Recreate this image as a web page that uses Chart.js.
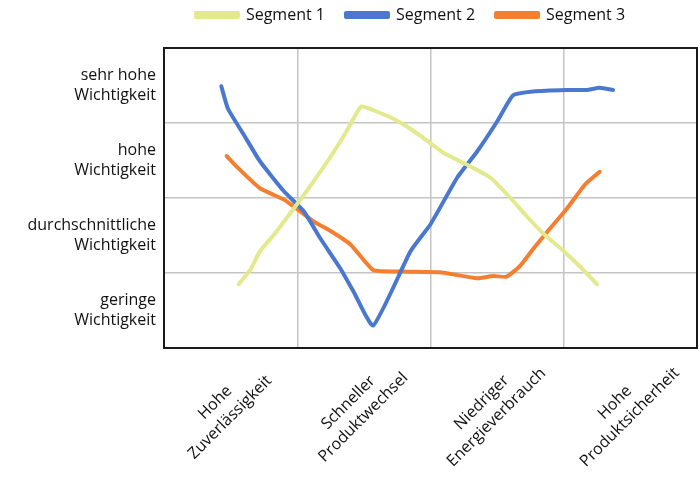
<!DOCTYPE html>
<html lang="de">
<head>
<meta charset="UTF-8">
<title>Wichtigkeit nach Segment</title>
<script src="https://cdn.jsdelivr.net/npm/chart.js"></script>
<style>
    html, body { margin: 0; padding: 0; background: #fff; }
    #wrap { width: 700px; height: 484px; }
</style>
</head>
<body>
<div id="wrap"><canvas id="chart"></canvas></div>
<script>
    // Kategorien (x) und Stufen (y), 0 = geringe ... 3 = sehr hohe
    const categories = [
        ['Hohe', 'Zuverlässigkeit'],
        ['Schneller', 'Produktwechsel'],
        ['Niedriger', 'Energieverbrauch'],
        ['Hohe', 'Produktsicherheit']
    ];
    const levels = [
        ['geringe', 'Wichtigkeit'],
        ['durchschnittliche', 'Wichtigkeit'],
        ['hohe', 'Wichtigkeit'],
        ['sehr hohe', 'Wichtigkeit']
    ];
    const seriesNames = ['Segment 1', 'Segment 2', 'Segment 3'];
    const seriesColors = ['#e3ea8e', '#4a78d0', '#f47f30'];

    const seg1X = [0.06, 0.15, 0.22, 0.33, 0.47, 0.57, 0.75, 0.87, 0.98, 1.10, 1.25, 1.40, 1.60, 1.80, 1.95, 2.10, 2.22, 2.35, 2.50, 2.62, 2.75];
    const seg1Y = [0.35, 0.55, 0.79, 1.02, 1.35, 1.59, 2.05, 2.39, 2.72, 2.65, 2.53, 2.36, 2.10, 1.92, 1.77, 1.50, 1.26, 1.02, 0.79, 0.59, 0.35];

    const seg2X = [-0.07, -0.02, 0.10, 0.22, 0.40, 0.55, 0.67, 0.82, 0.92, 1.07, 1.35, 1.50, 1.70, 1.85, 2.00, 2.12, 2.27, 2.52, 2.67, 2.77, 2.87];
    const seg2Y = [2.99, 2.69, 2.34, 1.99, 1.59, 1.32, 0.97, 0.57, 0.26, -0.20, 0.79, 1.15, 1.77, 2.12, 2.52, 2.87, 2.92, 2.94, 2.94, 2.97, 2.94];

    const seg3X = [-0.03, 0.05, 0.22, 0.40, 0.47, 0.62, 0.75, 0.90, 1.07, 1.27, 1.57, 1.85, 1.97, 2.07, 2.17, 2.27, 2.40, 2.52, 2.66, 2.77];
    const seg3Y = [2.06, 1.91, 1.63, 1.48, 1.39, 1.19, 1.06, 0.88, 0.54, 0.52, 0.51, 0.43, 0.46, 0.45, 0.59, 0.82, 1.10, 1.35, 1.68, 1.85];

    const xGridValues = [-0.5, 0.5, 1.5, 2.5, 3.5];
    const yTickValues = [-0.5, 0, 0.5, 1, 1.5, 2, 2.5, 3, 3.5];

    const FONT = '"Open Sans", "DejaVu Sans", sans-serif';

    function punkte(xs, ys) {
        return xs.map((x, i) => ({ x: x, y: ys[i] }));
    }

    function gitterFarbe(c) {
        const v = c.tick ? c.tick.value : 0;
        return (v % 1 !== 0 && v > -0.5 && v < 3.5) ? '#c4c4c4' : 'rgba(0,0,0,0)';
    }

    // Rahmen um die Zeichenfläche und gedrehte Kategorienamen
    const rahmenUndLabels = {
        id: 'rahmenUndLabels',
        beforeInit(chart) {
            const legend = chart.legend;
            const fit = legend.fit;
            legend.fit = function () {
                fit.call(this);
                this.height += 15;
            };
            const draw = legend.draw;
            legend.draw = function () {
                this.ctx.save();
                this.ctx.translate(-20, 0);
                draw.apply(this, arguments);
                this.ctx.restore();
            };
        },
        afterDraw(chart) {
            const { ctx, chartArea: a, scales: { x } } = chart;
            ctx.save();
            ctx.strokeStyle = '#1a1a1a';
            ctx.lineWidth = 2;
            ctx.strokeRect(a.left, a.top, a.right - a.left, a.bottom - a.top);

            ctx.font = '16px ' + FONT;
            ctx.fillStyle = '#111';
            ctx.textAlign = 'center';
            ctx.textBaseline = 'middle';
            categories.forEach((lines, i) => {
                ctx.save();
                ctx.translate(x.getPixelForValue(i) - 8, a.bottom + 62);
                ctx.rotate(-Math.PI / 4);
                lines.forEach((t, j) => ctx.fillText(t, 0, (j - (lines.length - 1) / 2) * 21));
                ctx.restore();
            });
            ctx.restore();
        }
    };

    const datenreihen = [punkte(seg1X, seg1Y), punkte(seg2X, seg2Y), punkte(seg3X, seg3Y)];

    new Chart(document.getElementById('chart'), {
        type: 'line',
        data: {
            datasets: datenreihen.map((d, i) => ({
                label: seriesNames[i],
                data: d,
                borderColor: seriesColors[i],
                backgroundColor: seriesColors[i],
                borderWidth: 4,
                pointRadius: 0,
                tension: 0.15,
                borderCapStyle: 'round',
                borderJoinStyle: 'round'
            }))
        },
        options: {
            responsive: true,
            maintainAspectRatio: false,
            animation: false,
            layout: { padding: { top: -14, left: 0, right: 3, bottom: 136 } },
            plugins: {
                legend: {
                    position: 'top',
                    fullSize: false,
                    labels: {
                        boxWidth: 42,
                        boxHeight: 4,
                        padding: 21,
                        color: '#111',
                        font: { family: FONT, size: 16 }
                    }
                },
                tooltip: { enabled: false }
            },
            scales: {
                x: {
                    type: 'linear',
                    min: -0.5,
                    max: 3.5,
                    afterBuildTicks: s => { s.ticks = xGridValues.map(v => ({ value: v })); },
                    afterFit: s => { s.height = 0; },
                    border: { display: false },
                    grid: { color: gitterFarbe, lineWidth: 1.5, drawTicks: false },
                    ticks: { display: false }
                },
                y: {
                    type: 'linear',
                    min: -0.5,
                    max: 3.5,
                    afterBuildTicks: s => { s.ticks = yTickValues.map(v => ({ value: v })); },
                    afterFit: s => { s.width = 164; },
                    border: { display: false },
                    grid: { color: gitterFarbe, lineWidth: 1.5, drawTicks: false },
                    ticks: {
                        autoSkip: false,
                        padding: 8,
                        color: '#111',
                        font: { family: FONT, size: 16, lineHeight: 1.3 },
                        callback: v => Number.isInteger(v) ? levels[v] : ''
                    }
                }
            }
        },
        plugins: [rahmenUndLabels]
    });
</script>
</body>
</html>
